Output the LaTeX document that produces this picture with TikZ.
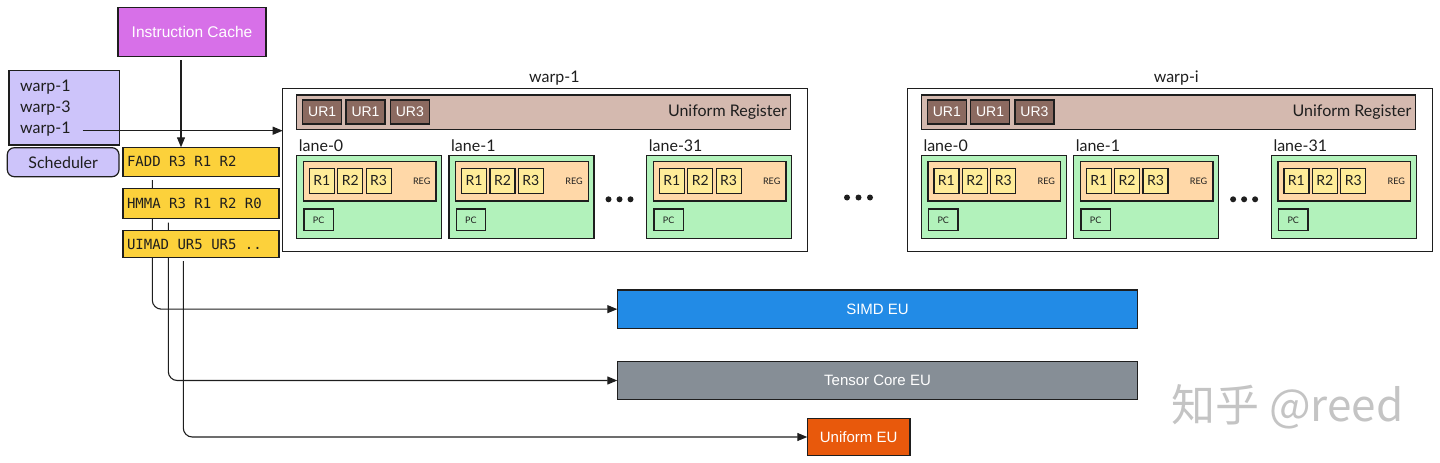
\documentclass[tikz,border=0pt]{standalone}
\usepackage{fontspec}
\setmainfont{Lato}
\setmonofont{DejaVu Sans Mono}
\newfontfamily\eufont{Liberation Sans}
\newfontfamily\cjkwm{Noto Sans CJK SC}
\usetikzlibrary{arrows.meta}
\definecolor{ink}{HTML}{1E1E1E}
\definecolor{icfill}{HTML}{D770E8}
\definecolor{lav}{HTML}{CDC4FA}
\definecolor{instr}{HTML}{FCD13B}
\definecolor{urbg}{HTML}{D4B9AF}
\definecolor{urdk}{HTML}{8B6A60}
\definecolor{lgreen}{HTML}{B2F2BB}
\definecolor{peach}{HTML}{FFD8A8}
\definecolor{ry}{HTML}{FFEC99}
\definecolor{simdc}{HTML}{228BE6}
\definecolor{tensc}{HTML}{868E96}
\definecolor{ueuc}{HTML}{E8590C}
\definecolor{wmc}{HTML}{C4C4C4}
\newcommand\fs[1]{\fontsize{#1}{#1}\selectfont}
\newcommand\tsp{\hspace*{0.602em}}
\tikzset{
  bx/.style={draw=ink, line width=1.2pt, anchor=north west, inner sep=0pt, outer sep=0pt},
  warpbox/.style={bx, fill=white, minimum width=525, minimum height=163.4},
  urbar/.style={bx, fill=urbg, minimum width=494, minimum height=34.3},
  urbox/.style={bx, fill=urdk, text=white, minimum width=39, minimum height=24, font=\eufont\fs{14}},
  lanebox/.style={bx, fill=lgreen, minimum width=145, minimum height=82.6},
  regbox/.style={bx, fill=peach, minimum width=132.7, minimum height=39.7},
  rbox/.style={bx, fill=ry, minimum width=25, minimum height=25, font=\fs{14}, text=ink},
  pcbox/.style={bx, fill=lgreen, minimum width=29.3, minimum height=21.7, font=\fs{9}, text=ink},
  smalllbl/.style={inner sep=0pt, font=\fs{9}, text=ink},
  lbl/.style={inner sep=0pt, font=\fs{16}, text=ink},
  instrbox/.style={bx, fill=instr, minimum width=156, minimum height=29, text width=148pt, align=left, font=\ttfamily\fs{14}, text=ink},
  eubox/.style={bx, text=white, font=\eufont\fs{15}},
  arr/.style={draw=ink, line width=1.1pt, -{Triangle[length=10pt,width=8pt]}},
  dotc/.style={fill=ink}
}
\newcommand\mklane[3]{%
  \node[lanebox] (#1) at (#2,155.7) {};
  \node[lbl, anchor=base west] (#1-t) at (#2+2,151.5) {#3};
  \node[regbox] (#1-reg) at (#2+6.6,161.3) {};
  \node[rbox] (#1-r1) at (#2+12.6,168.3) {R1};
  \node[rbox] (#1-r2) at (#2+41,168.3) {R2};
  \node[rbox] (#1-r3) at (#2+69.4,168.3) {R3};
  \node[smalllbl] (#1-regl) at (#2+125,181) {REG};
  \node[pcbox] (#1-pc) at (#2+7.3,209) {PC};
}
\newcommand\mkwarp[3]{%
  \begin{scope}[xshift=#2pt]
  \node[warpbox] (#1) at (282.7,88.3) {};
  \node[lbl, anchor=base west] (#1-t) at (529,82.7) {#3};
  \node[urbar] (#1-ur) at (296.7,95) {};
  \node[lbl, anchor=east] (#1-url) at (787,112.3) {Uniform Register};
  \node[urbox] (#1-u1) at (302.7,100) {UR1};
  \node[urbox] (#1-u2) at (346,100) {UR1};
  \node[urbox] (#1-u3) at (390.3,100) {UR3};
  \mklane{#1-l0}{296.7}{lane-0}
  \mklane{#1-l1}{449}{lane-1}
  \mklane{#1-l31}{646.7}{lane-31}
  \foreach \dx in {608.5,619.5,630.5} \fill[dotc] (\dx,199.3) circle (3pt);
  \end{scope}
}
\begin{document}
\begin{tikzpicture}[x=1pt,y=-1pt]
\useasboundingbox (0,0) rectangle (1440,463);
% execution units
\node[eubox, fill=simdc, minimum width=520.4, minimum height=38.3] (simd) at (617.3,290) {SIMD EU};
\node[eubox, fill=tensc, minimum width=520.4, minimum height=37.6] (tensor) at (617.3,361.7) {Tensor Core EU};
\node[eubox, fill=ueuc, minimum width=102.7, minimum height=37.4] (ueu) at (807.3,418.3) {Uniform EU};
% issue lines (behind instruction boxes)
\coordinate (fa) at (152.3,180);
\coordinate (hm) at (168.3,222.7);
\coordinate (ui) at (183.3,261);
\draw[arr, rounded corners=9pt] (fa) |- (simd.west);
\draw[arr, rounded corners=9pt] (hm) |- (tensor.west);
\draw[arr, rounded corners=9pt] (ui) |- (ueu.west);
% instruction queue
\node[instrbox] (fadd) at (123,147.3) {FADD\tsp R3\tsp R1\tsp R2};
\node[instrbox, minimum height=30] (hmma) at (123,188.7) {HMMA\tsp R3\tsp R1\tsp R2\tsp R0};
\node[instrbox, minimum height=27] (uimad) at (123,230.7) {UIMAD\tsp UR5\tsp UR5\tsp ..};
% instruction cache
\node[bx, fill=icfill, minimum width=148, minimum height=49.4, text=white, font=\eufont\fs{15.5}] (ic) at (118,7.3) {Instruction Cache};
\coordinate (icx) at (181,0);
\draw[arr] ([yshift=-3.5pt]ic.south -| icx) -- (fadd.north -| icx);
% scheduler
\node[bx, fill=lav, minimum width=110.3, minimum height=74.3] (wlist) at (9,70.7) {};
\node[lbl, anchor=base west] (wl1) at (20,91.7) {warp-1};
\node[lbl, anchor=base west] (wl2) at (20,112.3) {warp-3};
\node[lbl, anchor=base west] (wl3) at (20,133.3) {warp-1};
\node[bx, fill=lav, rounded corners=7pt, minimum width=111.7, minimum height=29, font=\fs{16}, text=ink] (sched) at (7.3,147.7) {Scheduler};
% warps
\mkwarp{w1}{0}{warp-1}
\mkwarp{wi}{624.6}{warp-i}
\foreach \dx in {847,858.5,870} \fill[dotc] (\dx,197.5) circle (3pt);
\coordinate (wlarr) at (82.7,130.7);
\draw[arr] (wlarr) -- (wlarr -| w1.west);
% watermark
\node[inner sep=0pt, anchor=west, text=wmc, font=\cjkwm\fs{44}] (wm) at (1171,406.5) {知乎 @reed};
\end{tikzpicture}
\end{document}
